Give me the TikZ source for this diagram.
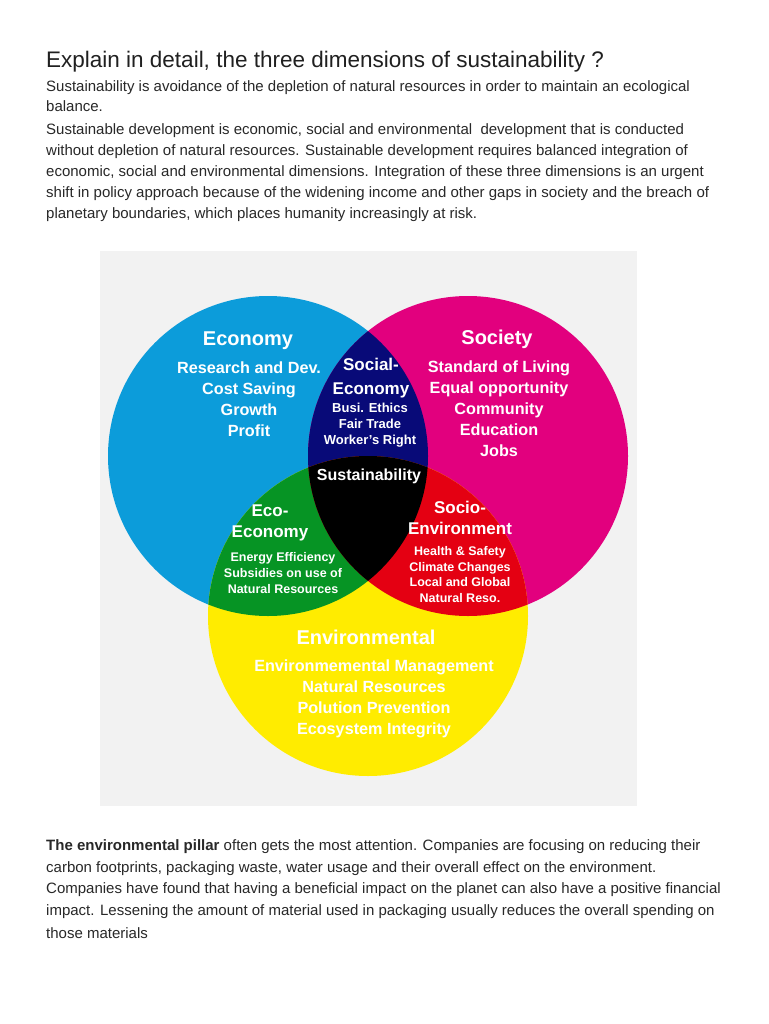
\documentclass[tikz,border=0pt]{standalone}
\usepackage{fontspec}
\setmainfont{Liberation Sans}
\definecolor{cblue}{RGB}{12,156,218}
\definecolor{cmag}{RGB}{226,0,126}
\definecolor{cyel}{RGB}{255,236,0}
\definecolor{cnavy}{RGB}{8,10,120}
\definecolor{cgreen}{RGB}{6,148,36}
\definecolor{cred}{RGB}{228,0,18}
\definecolor{cpanel}{RGB}{242,242,242}
\definecolor{ctext}{RGB}{40,40,40}
\begin{document}
\begin{tikzpicture}[x=1pt,y=-1pt,
  body/.style={anchor=west,inner sep=0pt,text=ctext,font=\fontsize{15}{17}\selectfont,text height=10.5pt,text depth=3pt},
  title/.style={anchor=west,inner sep=0pt,text=ctext!80!black,font=\fontsize{22.5}{26}\selectfont},
  head/.style={text=white,inner sep=0pt,align=center,font=\bfseries\fontsize{20}{24}\selectfont},
  items/.style={text=white,inner sep=0pt,align=center,font=\bfseries\fontsize{16.2}{21}\selectfont},
  subhead/.style={text=white,inner sep=0pt,align=center,font=\bfseries\fontsize{17}{21}\selectfont},
  subitems/.style={text=white,inner sep=0pt,align=center,font=\bfseries\fontsize{12.5}{15.7}\selectfont}]
\useasboundingbox (0,0) rectangle (768,1024);
\fill[white] (0,0) rectangle (768,1024);
% title and intro
\node[title] (ttl) at (46,62) {Explain in detail, the three dimensions of sustainability ?};
\node[body] (p1) at (46,88) {Sustainability is avoidance of the depletion of natural resources in order to maintain an ecological};
\node[body] (p2) at (46,108) {balance.};
\node[body] (p3) at (46,131) {Sustainable development is economic, social and environmental\ \ development that is conducted};
\node[body] (p4) at (46,152) {without depletion of natural resources. Sustainable development requires balanced integration of};
\node[body] (p5) at (46,173) {economic, social and environmental dimensions. Integration of these three dimensions is an urgent};
\node[body] (p6) at (46,194) {shift in policy approach because of the widening income and other gaps in society and the breach of};
\node[body] (p7) at (46,215) {planetary boundaries, which places humanity increasingly at risk.};
% panel
\fill[cpanel] (100,251) rectangle (637,806);
% circles
\def\cB{(268,456) circle (160)}
\def\cM{(468,456) circle (160)}
\def\cY{(368,616) circle (160)}
\fill[cblue] \cB;
\fill[cmag] \cM;
\fill[cyel] \cY;
\begin{scope}\clip \cB; \fill[cnavy] \cM; \end{scope}
\begin{scope}\clip \cB; \fill[cgreen] \cY; \end{scope}
\begin{scope}\clip \cM; \fill[cred] \cY; \end{scope}
\begin{scope}\clip \cB; \clip \cM; \fill[black] \cY; \end{scope}
% texts
\node[head] (eco) at (248,341) {Economy};
\node[items] (ecoi) at (249,399.5) {Research and Dev.\\Cost Saving\\Growth\\Profit};
\node[head] (soc) at (497,339) {Society};
\node[items] (soci) at (499,409) {Standard of Living\\Equal opportunity\\Community\\Education\\Jobs};
\node[subhead,font=\bfseries\fontsize{17}{24}\selectfont] (se) at (371,378) {Social-\\Economy};
\node[subitems,font=\bfseries\fontsize{13}{16}\selectfont] (sei) at (370,425) {Busi. Ethics\\Fair Trade\\Worker's Right};
\node[text=white,inner sep=0pt,font=\bfseries\fontsize{16}{20}\selectfont] (sus) at (369,476) {Sustainability};
\node[subhead] (ee) at (270,523) {Eco-\\Economy};
\node[subitems] (eei) at (283,573) {Energy Efficiency\\Subsidies on use of\\Natural Resources};
\node[subhead] (sen) at (460,518) {Socio-\\Environment};
\node[subitems] (seni) at (460,574.5) {Health \& Safety\\Climate Changes\\Local and Global\\Natural Reso.};
\node[head] (env) at (366,637) {Environmental};
\node[items] (envi) at (374,698.5) {Environmemental Management\\Natural Resources\\Polution Prevention\\Ecosystem Integrity};
% bottom text
\node[body] (q1) at (46,847) {\textbf{The environmental pillar} often gets the most attention. Companies are focusing on reducing their};
\node[body] (q2) at (46,868.5) {carbon footprints, packaging waste, water usage and their overall effect on the environment.};
\node[body] (q3) at (46,890) {Companies have found that having a beneficial impact on the planet can also have a positive financial};
\node[body] (q4) at (46,911.5) {impact. Lessening the amount of material used in packaging usually reduces the overall spending on};
\node[body] (q5) at (46,935) {those materials};
\end{tikzpicture}
\end{document}
